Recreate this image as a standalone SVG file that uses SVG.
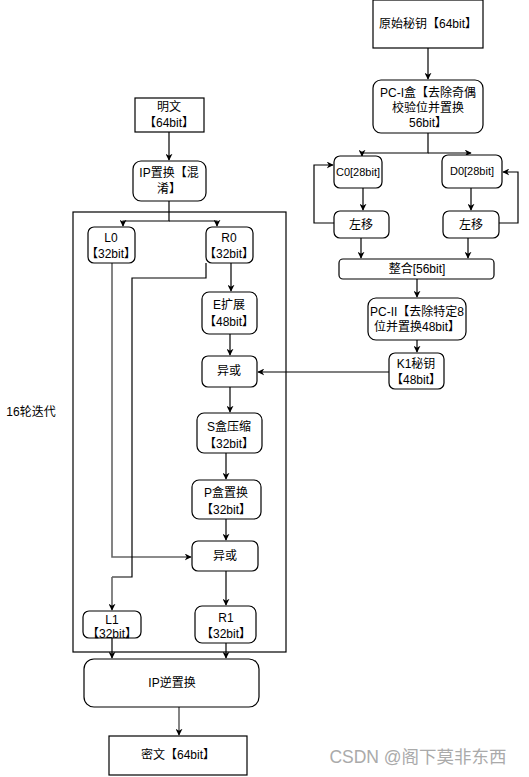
<svg xmlns="http://www.w3.org/2000/svg" width="529" height="777" viewBox="0 0 529 777">
<defs>
<marker id="ah" viewBox="0 0 10 10" refX="9" refY="5" markerWidth="7" markerHeight="7" markerUnits="userSpaceOnUse" orient="auto"><path d="M0,0 L10,5 L0,10 L3,5 Z" fill="#000"/></marker>
</defs>
<style>
.b{fill:#fff;stroke:#000;stroke-width:1.2}
.t{font-family:"Liberation Sans","Noto Sans CJK SC",sans-serif;font-size:12px;fill:#000;text-anchor:middle;dominant-baseline:central}
.s{font-size:11px}
.c{fill:none;stroke:#000;stroke-width:1.2}
.g{fill:none;stroke:#666;stroke-width:1.6}
</style>
<rect width="529" height="777" fill="#fff"/>
<g id="frame"><rect x="73" y="212" width="213" height="440" fill="none" stroke="#000" stroke-width="1.2"/></g>
<g id="connectors">
<path class="c" d="M428,48 V79" marker-end="url(#ah)"/>
<path class="c" d="M428,133 V153 H362 V156" marker-end="url(#ah)"/>
<path class="c" d="M428,153 H471" marker-end="url(#ah)"/>
<path class="c" d="M363,188 V210" marker-end="url(#ah)"/>
<path class="c" d="M471,188 V210" marker-end="url(#ah)"/>
<path class="c" d="M334,223 H314 V165 H333" marker-end="url(#ah)"/>
<path class="c" d="M499,223 H518 V172 H503" marker-end="url(#ah)"/>
<path class="c" d="M361,238 V258" marker-end="url(#ah)"/>
<path class="c" d="M468,238 V258" marker-end="url(#ah)"/>
<path class="c" d="M417,279 V297" marker-end="url(#ah)"/>
<path class="c" d="M417,340 V352" marker-end="url(#ah)"/>
<path class="c" d="M389,372 H258" marker-end="url(#ah)"/>
<path class="c" d="M169,132 V160" marker-end="url(#ah)"/>
<path class="c" d="M169,201 V221 H123 V226" marker-end="url(#ah)"/>
<path class="c" d="M169,221 H217 V226" marker-end="url(#ah)"/>
<path class="c" d="M231,263 V291" marker-end="url(#ah)"/>
<path class="c" d="M230,334 V355" marker-end="url(#ah)"/>
<path class="c" d="M230,387 V412" marker-end="url(#ah)"/>
<path class="c" d="M226,453 V479" marker-end="url(#ah)"/>
<path class="c" d="M226,519 V540" marker-end="url(#ah)"/>
<path class="g" d="M112,263 V557 H191" marker-end="url(#ah)"/>
<path class="c" d="M206,263 V278 H132 V577 H112"/>
<path class="g" d="M112,577 V610" marker-end="url(#ah)"/>
<path class="c" d="M226,571 V605" marker-end="url(#ah)"/>
<path class="c" d="M112,638 V658" marker-end="url(#ah)"/>
<path class="c" d="M226,643 V658" marker-end="url(#ah)"/>
<path class="g" d="M179,707 V735" marker-end="url(#ah)"/>
</g>
<g id="key"><rect class="b" x="373" y="0" width="110" height="48"/><text class="t" x="428" y="24">原始秘钥【64bit】</text></g>
<g id="pc1"><rect class="b" x="373" y="80" width="110" height="53" rx="8"/><text class="t" x="428" y="93">PC-I盒【去除奇偶</text><text class="t" x="428" y="108">校验位并置换</text><text class="t" x="428" y="123">56bit】</text></g>
<g id="c0"><rect class="b" x="334" y="156" width="48" height="32" rx="6"/><text class="t s" x="358" y="172">C0[28bit]</text></g>
<g id="d0"><rect class="b" x="442" y="155" width="60" height="33" rx="6"/><text class="t s" x="472" y="171">D0[28bit]</text></g>
<g id="ls1"><rect class="b" x="334" y="211" width="55" height="27" rx="6"/><text class="t" x="361" y="225">左移</text></g>
<g id="ls2"><rect class="b" x="443" y="211" width="56" height="27" rx="6"/><text class="t" x="471" y="225">左移</text></g>
<g id="merge"><rect class="b" x="339" y="259" width="155" height="20" rx="4"/><text class="t" x="417" y="269">整合[56bit]</text></g>
<g id="pc2"><rect class="b" x="368" y="298" width="98" height="42" rx="8"/><text class="t" x="417" y="312">PC-II【去除特定8</text><text class="t" x="417" y="327">位并置换48bit】</text></g>
<g id="k1"><rect class="b" x="389" y="353" width="55" height="36" rx="6"/><text class="t" x="416" y="364">K1秘钥</text><text class="t" x="416" y="380">【48bit】</text></g>
<g id="plain"><rect class="b" x="135" y="98" width="69" height="34"/><text class="t" x="169" y="107">明文</text><text class="t" x="169" y="123">【64bit】</text></g>
<g id="ip"><rect class="b" x="133" y="161" width="73" height="40" rx="8"/><text class="t" x="169" y="173">IP置换【混</text><text class="t" x="169" y="189">淆】</text></g>
<g id="l0"><rect class="b" x="88" y="227" width="47" height="36" rx="6"/><text class="t" x="111" y="238">L0</text><text class="t" x="111" y="254">【32bit】</text></g>
<g id="r0"><rect class="b" x="206" y="227" width="47" height="36" rx="6"/><text class="t" x="229" y="238">R0</text><text class="t" x="229" y="254">【32bit】</text></g>
<g id="e"><rect class="b" x="202" y="292" width="55" height="42" rx="7"/><text class="t" x="229" y="305">E扩展</text><text class="t" x="229" y="322">【48bit】</text></g>
<g id="xor1"><rect class="b" x="202" y="356" width="55" height="31" rx="6"/><text class="t" x="229" y="371">异或</text></g>
<g id="sbox"><rect class="b" x="197" y="413" width="65" height="40" rx="7"/><text class="t" x="229" y="427">S盒压缩</text><text class="t" x="229" y="444">【32bit】</text></g>
<g id="pbox"><rect class="b" x="192" y="480" width="69" height="39" rx="7"/><text class="t" x="226" y="493">P盒置换</text><text class="t" x="226" y="510">【32bit】</text></g>
<g id="xor2"><rect class="b" x="192" y="541" width="66" height="30" rx="6"/><text class="t" x="225" y="556">异或</text></g>
<g id="l1"><rect class="b" x="83" y="611" width="58" height="27" rx="6"/><text class="t" x="112" y="620">L1</text><text class="t" x="112" y="634">【32bit】</text></g>
<g id="r1"><rect class="b" x="195" y="606" width="61" height="37" rx="7"/><text class="t" x="226" y="618">R1</text><text class="t" x="226" y="634">【32bit】</text></g>
<g id="ipinv"><rect class="b" x="84" y="659" width="175" height="48" rx="10"/><text class="t" x="172" y="683">IP逆置换</text></g>
<g id="cipher"><rect class="b" x="109" y="736" width="138" height="39"/><text class="t" x="178" y="755">密文【64bit】</text></g>
<text class="t" x="31" y="412">16轮迭代</text>
<text x="418" y="757" style="font-family:'Liberation Sans','Noto Sans CJK SC',sans-serif;font-size:17.5px;fill:#aaa;text-anchor:middle;dominant-baseline:central">CSDN @阁下莫非东西</text>
</svg>
